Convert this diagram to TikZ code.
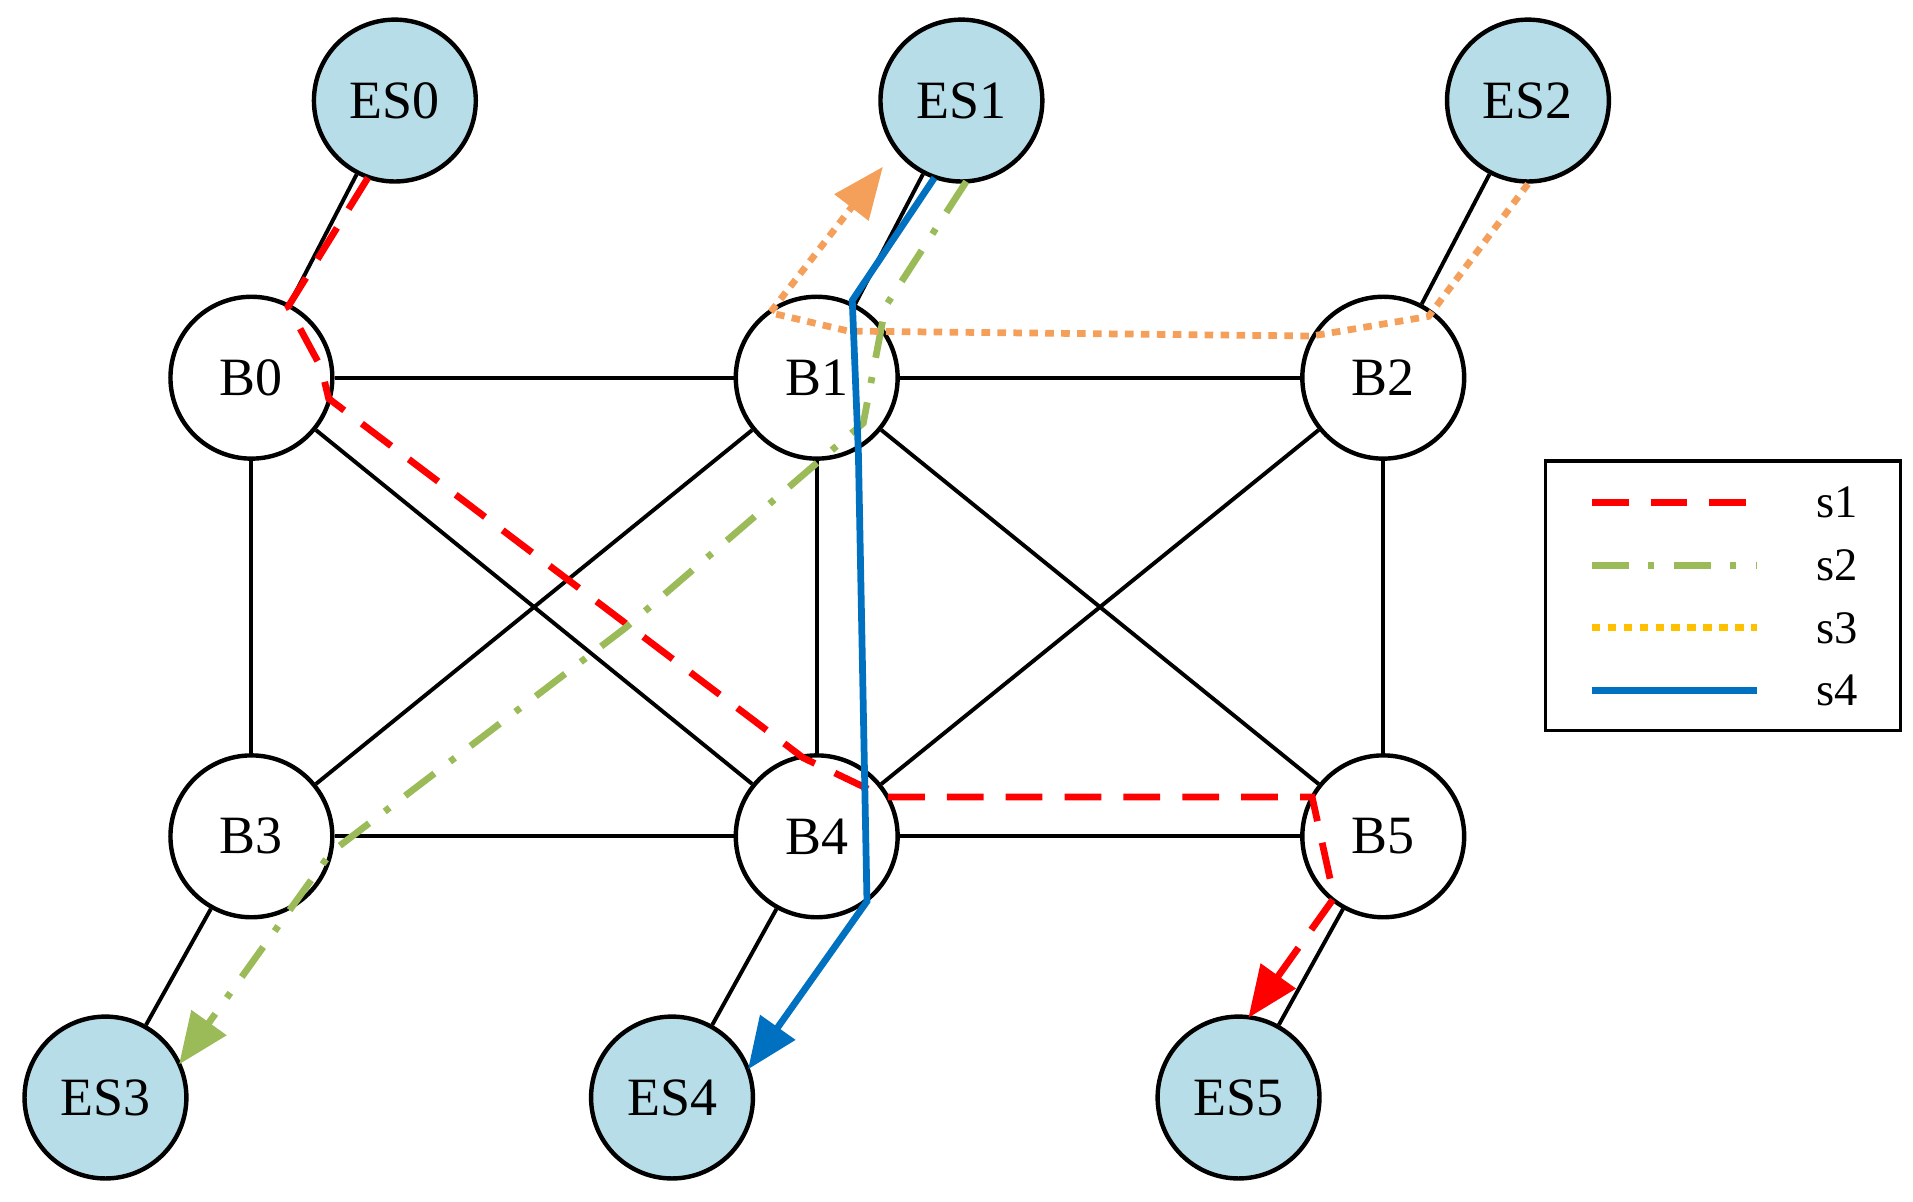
\documentclass[tikz,border=0pt]{standalone}
\usepackage{fontspec}
\setmainfont{Liberation Serif}
\usetikzlibrary{arrows.meta}
\definecolor{esfill}{RGB}{182,221,232}
\definecolor{cred}{RGB}{255,0,0}
\definecolor{cgreen}{RGB}{155,187,89}
\definecolor{corange}{RGB}{244,160,90}
\definecolor{cyellow}{RGB}{255,192,0}
\definecolor{cblue}{RGB}{0,112,192}
\begin{document}
\begin{tikzpicture}[x=1pt,y=-1pt,
  nd/.style={circle,draw,line width=3.6pt,minimum size=132pt,inner sep=0pt,font=\fontsize{44}{48}\selectfont},
  es/.style={nd,fill=esfill},
  b/.style={nd,fill=white},
  ed/.style={line width=3.2pt},
  tip/.style={-{Triangle[length=42pt,width=34pt]}},
  s1/.style={cred,line width=5.5pt,dash pattern=on 30pt off 18pt},
  s2/.style={cgreen,line width=5.5pt,dash pattern=on 30pt off 16pt on 5pt off 16pt},
  s3/.style={corange,line width=5.5pt,dash pattern=on 7pt off 6pt},
  s4/.style={cblue,line width=5.5pt},
  lg/.style={font=\fontsize{38}{42}\selectfont,anchor=center}]
\useasboundingbox (0,0) rectangle (1560,980);
\node[es] (ES0) at (322,82) {ES0};
\node[es] (ES1) at (784,82) {ES1};
\node[es] (ES2) at (1246,82) {ES2};
\node[es] (ES3) at (86,895) {ES3};
\node[es] (ES4) at (548,895) {ES4};
\node[es] (ES5) at (1010,895) {ES5};
\node[b] (B0) at (205,308) {B0};
\node[b] (B1) at (666,308) {B1};
\node[b] (B2) at (1128,308) {B2};
\node[b] (B3) at (205,682) {B3};
\node[b] (B4) at (666,682) {B4};
\node[b] (B5) at (1128,682) {B5};
\foreach \a/\b in {ES0/B0,ES1/B1,ES2/B2,B3/ES3,B4/ES4,B5/ES5,B0/B1,B1/B2,B0/B3,B1/B4,B2/B5,B3/B4,B4/B5,B0/B4,B1/B3,B1/B5,B2/B4}
  \draw[ed] (\a) -- (\b);
% s1
\coordinate (a1) at (300,145);
\coordinate (a9) at (1018,830);
\draw[s1,tip] (a1) -- (235,250) -- (262,300) -- (268,325) -- (655,618) -- (705,642) -- (720,650) -- (1070,650) -- (1088,732) -- (a9);
% s2
\coordinate (g1) at (788,148);
\coordinate (g9) at (146,868);
\draw[s2,tip] (g1) -- (722,250) -- (704,345) -- (510,512) -- (270,695) -- (g9);
% s3
\coordinate (o1) at (1246,150);
\coordinate (o9) at (720,136);
\draw[s3,tip] (o1) -- (1165,258) -- (1070,274) -- (692,270) -- (628,255) -- (o9);
% s4
\coordinate (u1) at (762,145);
\coordinate (u9) at (610,872);
\draw[s4,tip] (u1) -- (695,245) -- (700,370) -- (707,735) -- (u9);
% legend
\node[draw,line width=2.6pt,minimum width=290pt,minimum height=220pt,inner sep=0pt] (leg) at (1405,486) {};
\draw[s1] (1298,410) -- (1433,410); \node[lg] (l1) at (1498,410) {s1};
\draw[s2] (1298,461) -- (1433,461); \node[lg] (l2) at (1498,461) {s2};
\draw[s3,cyellow] (1298,512) -- (1433,512); \node[lg] (l3) at (1498,512) {s3};
\draw[s4] (1298,563) -- (1433,563); \node[lg] (l4) at (1498,563) {s4};
\end{tikzpicture}
\end{document}
